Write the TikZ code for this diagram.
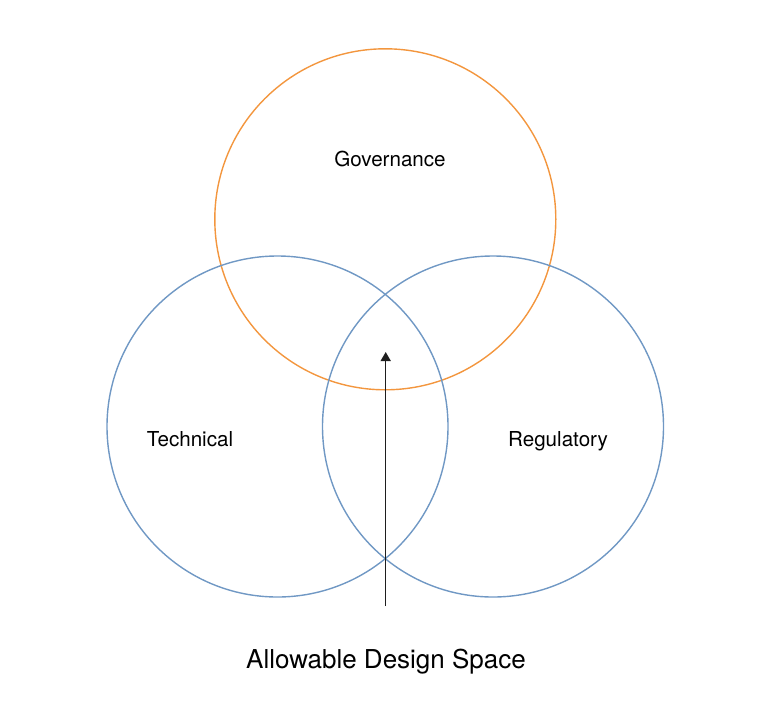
\documentclass[tikz,border=0pt]{standalone}
\usepackage{fontspec}
\setmainfont{TeX Gyre Heros}
\usetikzlibrary{arrows.meta,positioning}

\definecolor{govorange}{RGB}{243,150,62}
\definecolor{areablue}{RGB}{112,152,196}
\definecolor{arrowgrey}{RGB}{30,30,30}

\tikzset{
  ring/.style={circle, draw, line width=1.4pt, minimum size=341pt, inner sep=0pt},
  area/.style={font=\fontsize{20.6}{24}\selectfont, anchor=base, inner sep=0pt},
  caption/.style={font=\fontsize{26}{30}\selectfont, anchor=base, inner sep=0pt},
  pointer/.style={draw=arrowgrey, line width=1.5pt, -{Triangle[length=9pt,width=10pt]}},
}

\begin{document}
\begin{tikzpicture}[x=1pt,y=-1pt]
  \useasboundingbox (0,0) rectangle (768,726);

  % the three circles
  \node[ring, draw=govorange] (gov) at (385.3,219.3) {};
  \node[ring, draw=areablue] (tech) at (277.5,426.5) {};
  \node[ring, draw=areablue] (reg) at (493,426.5) {};

  % labels
  \node[area] (govlabel) at (390,166) {Governance};
  \node[area] (techlabel) at (190,446) {Technical};
  \node[area] (reglabel) at (558,446) {Regulatory};

  % allowable design space
  \coordinate (foot) at (385.7,606);
  \coordinate (tip) at (385.7,352);
  \draw[pointer] (foot) -- (tip);
  \node[caption] (space) at (386,668) {Allowable Design Space};
\end{tikzpicture}
\end{document}
